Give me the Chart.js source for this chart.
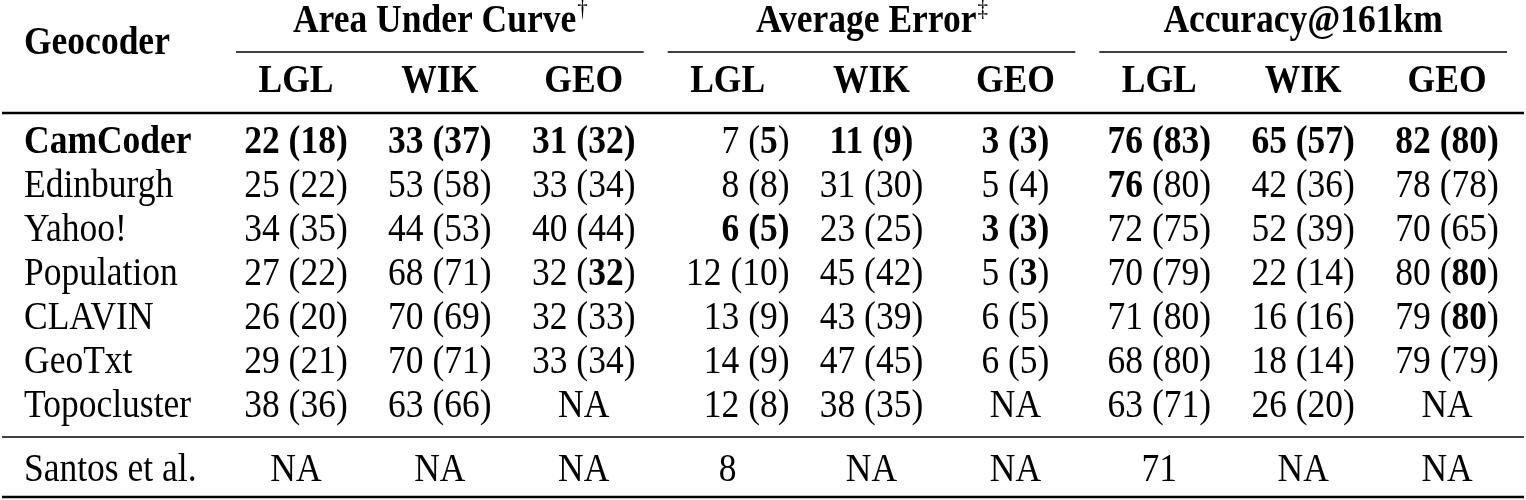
<!DOCTYPE html>
<html>
<head>
<meta charset="utf-8">
<script src="https://cdn.jsdelivr.net/npm/chart.js@4.4.0/dist/chart.umd.min.js"></script>
<style>
  html, body { margin: 0; padding: 0; background: #fff; }
  #wrap { width: 1526px; height: 500px; position: relative; }
</style>
</head>
<body>
<div id="wrap"><canvas id="chart"></canvas></div>
<script>
// table content
const models = ['CamCoder', 'Edinburgh', 'Yahoo!', 'Population', 'CLAVIN', 'GeoTxt', 'Topocluster'];
const extraModel = 'Santos et al.';
const groups = ['Area Under Curve', 'Average Error', 'Accuracy@161km'];
const groupMarks = ['\u2020', '\u2021', ''];
const subsets = ['LGL', 'WIK', 'GEO'];

// [value, (value in brackets)], null = NA
const aucLGL = [[22, 18], [25, 22], [34, 35], [27, 22], [26, 20], [29, 21], [38, 36]];
const aucWIK = [[33, 37], [53, 58], [44, 53], [68, 71], [70, 69], [70, 71], [63, 66]];
const aucGEO = [[31, 32], [33, 34], [40, 44], [32, 32], [32, 33], [33, 34], null];
const errLGL = [[7, 5], [8, 8], [6, 5], [12, 10], [13, 9], [14, 9], [12, 8]];
const errWIK = [[11, 9], [31, 30], [23, 25], [45, 42], [43, 39], [47, 45], [38, 35]];
const errGEO = [[3, 3], [5, 4], [3, 3], [5, 3], [6, 5], [6, 5], null];
const accLGL = [[76, 83], [76, 80], [72, 75], [70, 79], [71, 80], [68, 80], [63, 71]];
const accWIK = [[65, 57], [42, 36], [52, 39], [22, 14], [16, 16], [18, 14], [26, 20]];
const accGEO = [[82, 80], [78, 78], [70, 65], [80, 80], [79, 80], [79, 79], null];
const santos = [null, null, null, 8, null, null, 71, null, null];

// bold cells: [row, column, part]
const boldCells = [
  [0, 0, 'both'], [0, 1, 'both'], [0, 2, 'both'], [0, 3, 'paren'], [0, 4, 'both'], [0, 5, 'both'],
  [0, 6, 'both'], [0, 7, 'both'], [0, 8, 'both'],
  [1, 6, 'main'],
  [2, 3, 'both'], [2, 5, 'both'],
  [3, 2, 'paren'], [3, 5, 'paren'], [3, 8, 'paren'],
  [4, 8, 'paren']
];
const boldModels = ['CamCoder'];

const columns = [aucLGL, aucWIK, aucGEO, errLGL, errWIK, errGEO, accLGL, accWIK, accGEO];
const colKeys = columns.map((c, i) => groups[Math.floor(i / 3)] + ' ' + subsets[i % 3]);
const rightAligned = [3];

const SIZE = 35.5;
const VS = 1.1; // glyphs in the original are a bit taller
const FONT = '"Liberation Serif", "Times New Roman", serif';
const reg = SIZE + 'px ' + FONT;
const bold = 'bold ' + SIZE + 'px ' + FONT;

function cellParts(pair, row, col) {
  if (pair === null) return [{ t: 'NA' }];
  const b = boldCells.find(c => c[0] === row && c[1] === col);
  const kind = b ? b[2] : 'none';
  if (kind === 'both') return [{ t: pair[0] + ' (' + pair[1] + ')', bold: true }];
  if (kind === 'main') return [{ t: String(pair[0]), bold: true }, { t: ' (' + pair[1] + ')' }];
  if (kind === 'paren') return [{ t: pair[0] + ' (' }, { t: String(pair[1]), bold: true }, { t: ')' }];
  return [{ t: pair[0] + ' (' + pair[1] + ')' }];
}

function put(ctx, t, x, y) {
  ctx.save();
  ctx.translate(x, y);
  ctx.scale(1, VS);
  ctx.fillText(t, 0, 0);
  ctx.restore();
}

function drawParts(ctx, parts, x, y, align) {
  let w = 0;
  parts.forEach(p => { ctx.font = p.bold ? bold : reg; w += ctx.measureText(p.t).width; });
  let sx = align === 'right' ? x - w : align === 'left' ? x : x - w / 2;
  ctx.textAlign = 'left';
  parts.forEach(p => {
    ctx.font = p.bold ? bold : reg;
    put(ctx, p.t, sx, y);
    sx += ctx.measureText(p.t).width;
  });
}

function rule(ctx, x1, x2, y, lw) {
  ctx.beginPath();
  ctx.lineWidth = lw;
  ctx.moveTo(x1, y);
  ctx.lineTo(x2, y);
  ctx.stroke();
}

const tablePlugin = {
  id: 'table',
  afterDraw(chart) {
    const ctx = chart.ctx;
    const xs = chart.scales.x, ys = chart.scales.y;
    const colX = i => xs.getPixelForValue(i);
    const band = (xs.right - xs.left) / columns.length;
    const base = 11;
    const labelX = 24;
    ctx.save();
    ctx.fillStyle = '#000';
    ctx.strokeStyle = '#000';
    ctx.textBaseline = 'alphabetic';

    // header
    drawParts(ctx, [{ t: 'Geocoder', bold: true }], labelX, ys.top - 66, 'left');
    groups.forEach((g, gi) => {
      const cx = (colX(gi * 3) + colX(gi * 3 + 2)) / 2;
      ctx.font = bold;
      const w1 = ctx.measureText(g).width;
      ctx.font = '21px ' + FONT;
      const w2 = ctx.measureText(groupMarks[gi]).width;
      const sx = cx - (w1 + w2) / 2;
      ctx.font = bold;
      ctx.textAlign = 'left';
      put(ctx, g, sx, ys.top - 88);
      ctx.font = '21px ' + FONT;
      put(ctx, groupMarks[gi], sx + w1 + 1, ys.top - 104);
      const l = xs.left + band * gi * 3 + 12;
      const r = xs.left + band * (gi * 3 + 3) - 12;
      rule(ctx, l, r, ys.top - 68, 1.3);
    });
    colKeys.forEach((k, i) => {
      drawParts(ctx, [{ t: subsets[i % 3], bold: true }], colX(i), ys.top - 28, 'center');
    });
    rule(ctx, 2, chart.width - 2, ys.top - 7, 2.4);

    // body
    models.forEach((m, r) => {
      const y = ys.getPixelForValue(r) + base;
      drawParts(ctx, [{ t: m, bold: boldModels.includes(m) }], labelX, y, 'left');
      columns.forEach((col, c) => {
        const pair = col[r];
        const right = rightAligned.includes(c) && pair !== null;
        drawParts(ctx, cellParts(pair, r, c), right ? colX(c) + 62 : colX(c), y, right ? 'right' : 'center');
      });
    });

    rule(ctx, 2, chart.width - 2, ys.bottom + 9, 1.3);
    const sy = ys.bottom + 42 + base;
    drawParts(ctx, [{ t: extraModel }], labelX, sy, 'left');
    santos.forEach((v, c) => {
      drawParts(ctx, [{ t: v === null ? 'NA' : String(v) }], colX(c), sy, 'center');
    });
    rule(ctx, 2, chart.width - 2, ys.bottom + 69, 2.6);
    ctx.restore();
  }
};

new Chart(document.getElementById('chart').getContext('2d'), {
  type: 'scatter',
  data: { datasets: [] },
  options: {
    responsive: true,
    maintainAspectRatio: false,
    animation: false,
    layout: { padding: { left: 224, right: 7, top: 120, bottom: 72 } },
    plugins: { legend: { display: false }, tooltip: { enabled: false } },
    scales: {
      x: { type: 'category', labels: colKeys, offset: true, display: false },
      y: { type: 'category', labels: models, offset: true, display: false }
    }
  },
  plugins: [tablePlugin]
});
</script>
</body>
</html>
